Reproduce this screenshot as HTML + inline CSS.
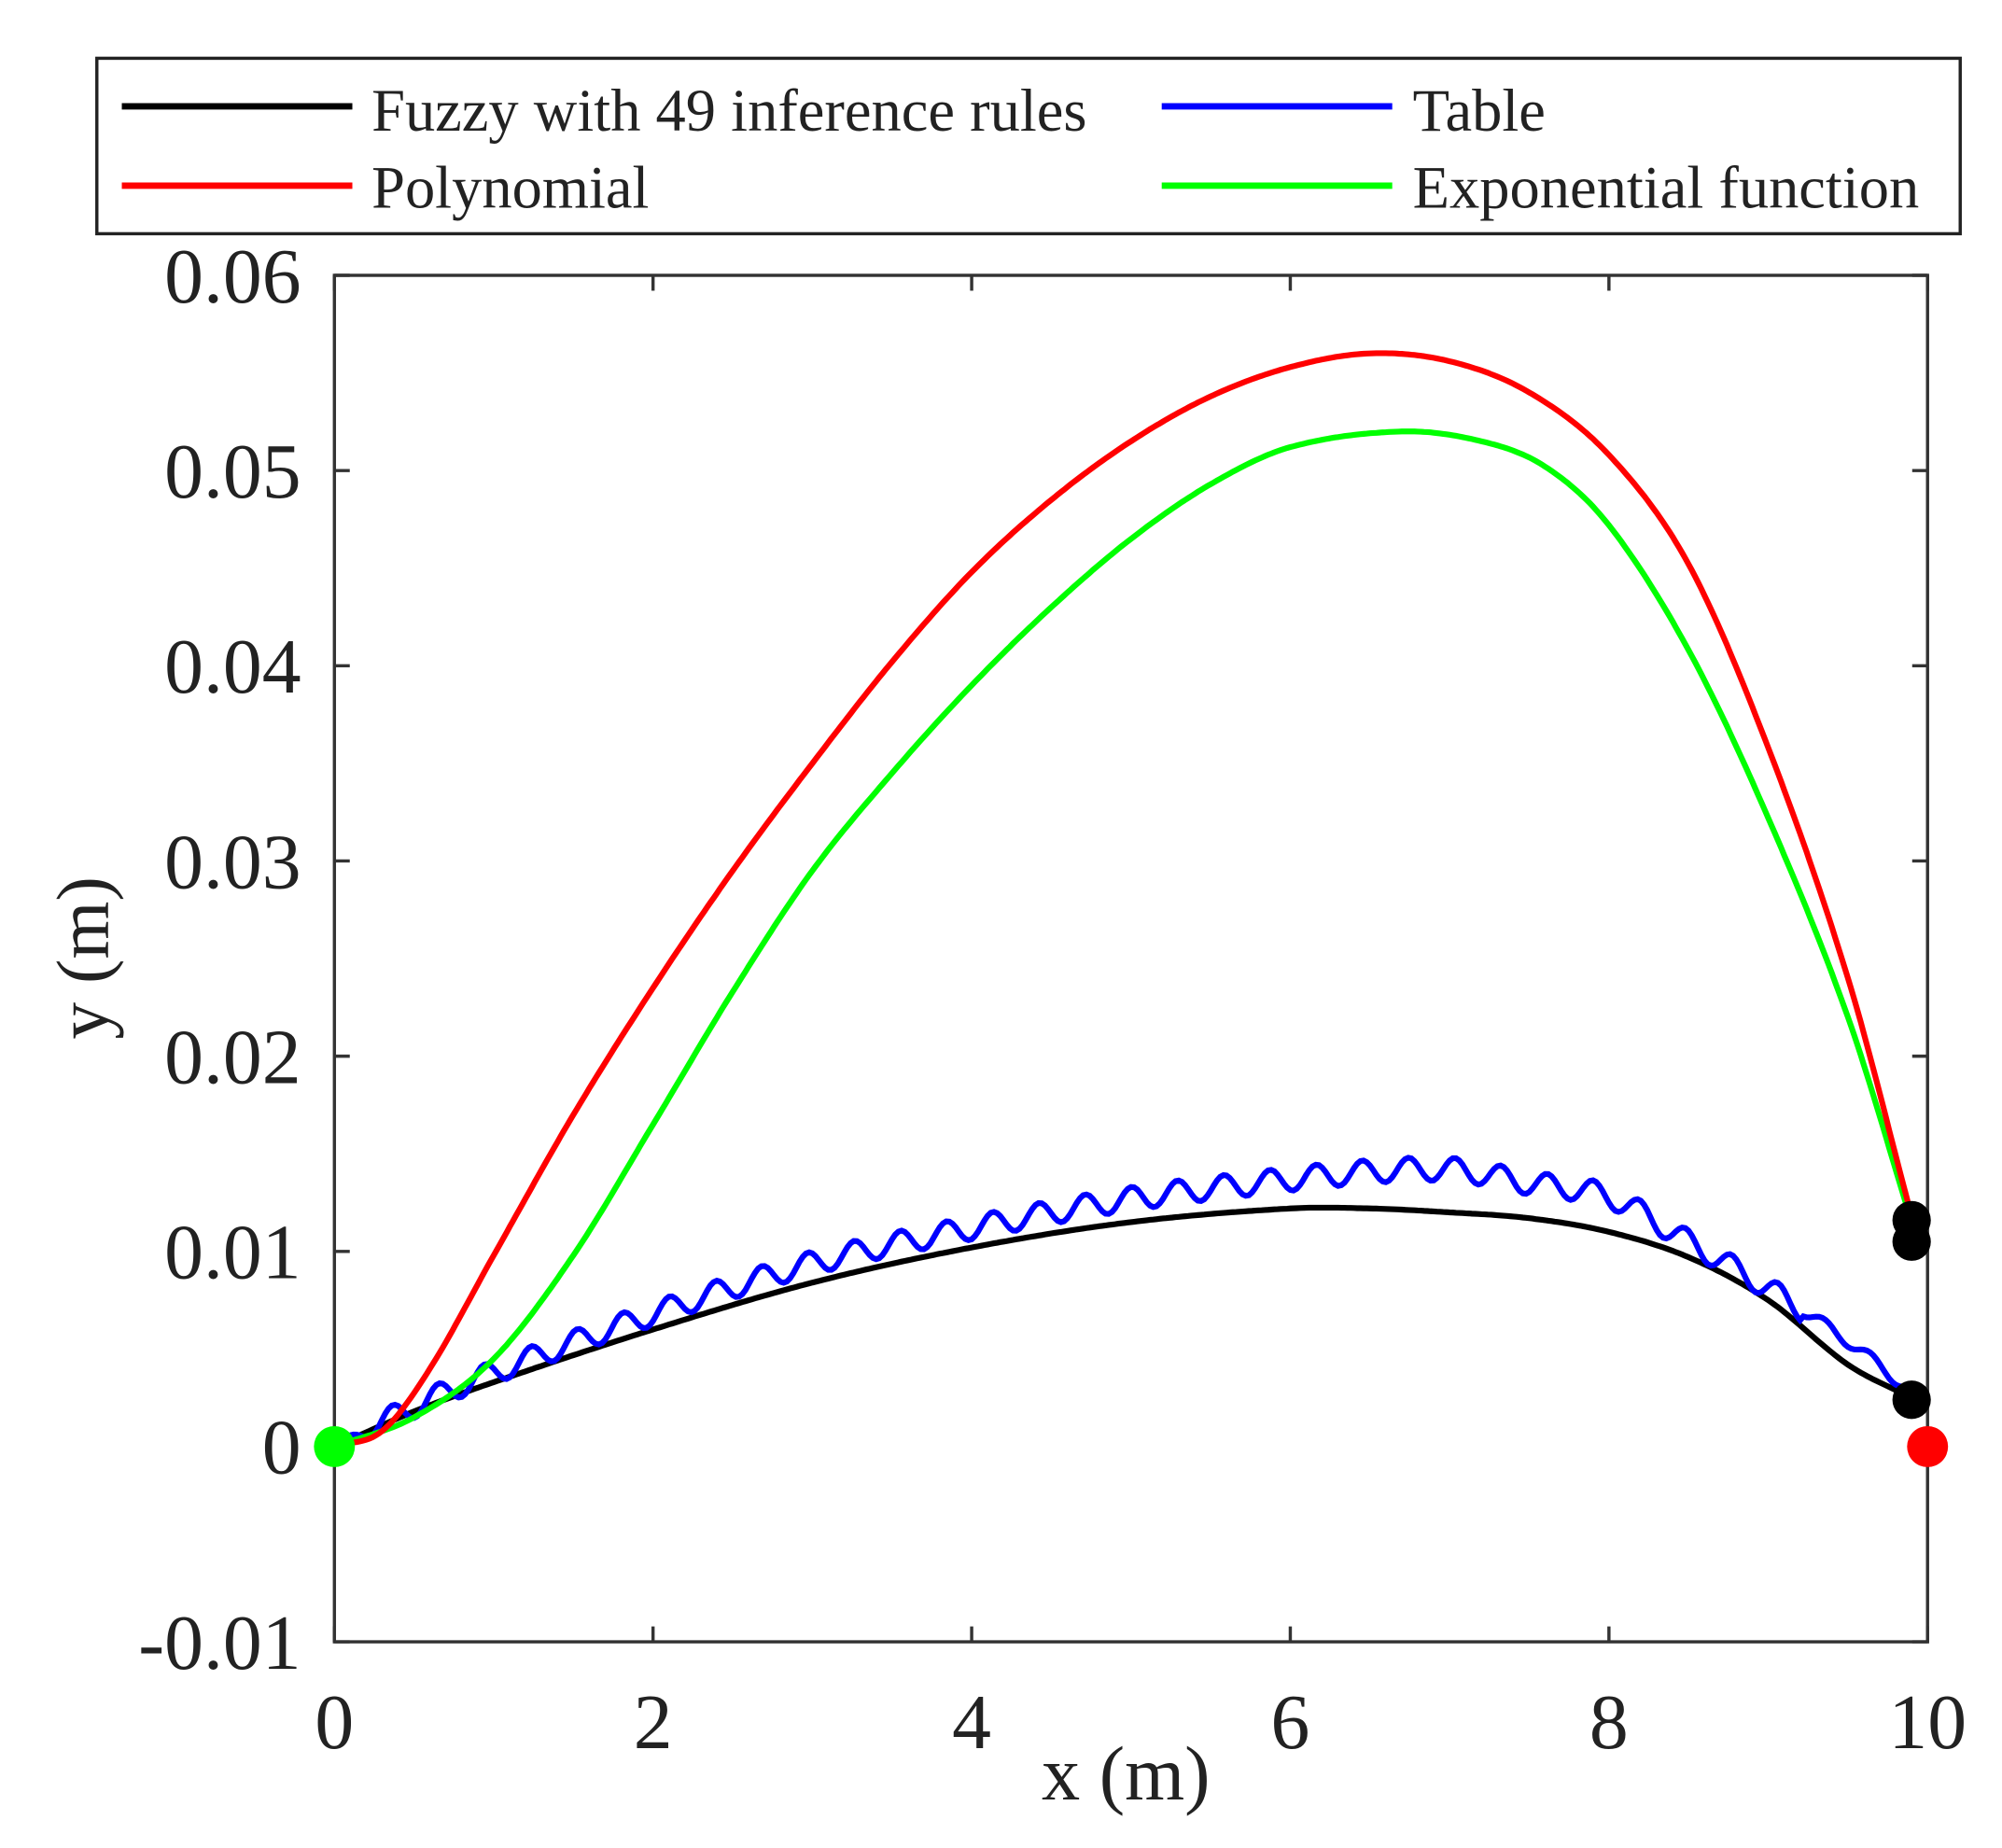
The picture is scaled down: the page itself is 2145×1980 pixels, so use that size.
<!DOCTYPE html>
<html><head><meta charset="utf-8"><style>
html,body{margin:0;padding:0;background:#fff}
svg{display:block}
text{font-family:"Liberation Serif",serif;fill:#222}
</style></head><body>
<svg id="s" width="2145" height="1980" viewBox="0 0 1563 1443" xmlns="http://www.w3.org/2000/svg">
<rect x="0" y="0" width="1563" height="1443" fill="#fff"/>
<rect x="75.5" y="45.5" width="1455" height="137" fill="#fff" stroke="#222" stroke-width="2.5"/>
<line x1="95" y1="83" x2="275" y2="83" stroke="#000" stroke-width="5"/>
<line x1="95" y1="145" x2="275" y2="145" stroke="#f00" stroke-width="5"/>
<line x1="907" y1="83" x2="1087" y2="83" stroke="#00f" stroke-width="5"/>
<line x1="907" y1="145" x2="1087" y2="145" stroke="#0f0" stroke-width="5"/>
<text x="290" y="102" font-size="47">Fuzzy with 49 inference rules</text>
<text x="290" y="162" font-size="47">Polynomial</text>
<text x="1103" y="102" font-size="47">Table</text>
<text x="1103" y="162" font-size="47">Exponential function</text>
<g id="ax"></g>
<g id="curves"></g>
<text x="879" y="1405" font-size="60" text-anchor="middle">x (m)</text>
<text transform="translate(84,748) rotate(-90)" font-size="58" text-anchor="middle">y (m)</text>
</svg>
<script>
const L=261,R=1505,T=215,B=1282;
const X=x=>L+(R-L)*x/10, Y=y=>B-(B-T)*(y+0.01)/0.07;
let ax='';
ax+=`<rect x="${L}" y="${T}" width="${R-L}" height="${B-T}" fill="none" stroke="#333" stroke-width="2.5"/>`;
for(let i=0;i<=10;i+=2){const x=X(i);
 ax+=`<line x1="${x}" y1="${B}" x2="${x}" y2="${B-12}" stroke="#333" stroke-width="2.5"/><line x1="${x}" y1="${T}" x2="${x}" y2="${T+12}" stroke="#333" stroke-width="2.5"/>`;
 ax+=`<text x="${x}" y="${B+83}" font-size="61" text-anchor="middle">${i}</text>`;}
const yl=['-0.01','0','0.01','0.02','0.03','0.04','0.05','0.06'];
for(let k=0;k<8;k++){const v=-0.01+0.01*k,y=Y(v);
 ax+=`<line x1="${L}" y1="${y}" x2="${L+12}" y2="${y}" stroke="#333" stroke-width="2.5"/><line x1="${R}" y1="${y}" x2="${R-12}" y2="${y}" stroke="#333" stroke-width="2.5"/>`;
 ax+=`<text x="${L-26}" y="${y+21}" font-size="61" text-anchor="end">${yl[k]}</text>`;}
document.getElementById('ax').innerHTML=ax;
function interp(pts,x){for(let i=0;i<pts.length-1;i++){if(x<=pts[i+1][0]){
 const p0=pts[Math.max(i-1,0)],p1=pts[i],p2=pts[i+1],p3=pts[Math.min(i+2,pts.length-1)];
 const t=(x-p1[0])/(p2[0]-p1[0]);
 const m1=(p2[1]-p0[1])/(p2[0]-p0[0])*(p2[0]-p1[0]), m2=(p3[1]-p1[1])/(p3[0]-p1[0])*(p2[0]-p1[0]);
 const t2=t*t,t3=t2*t;
 return (2*t3-3*t2+1)*p1[1]+(t3-2*t2+t)*m1+(-2*t3+3*t2)*p2[1]+(t3-t2)*m2;}}return pts[pts.length-1][1];}
const red=[[0,0],[0.3,0.0008],[0.6,0.004],[1,0.0098],[1.5,0.017],[2,0.0235],[2.5,0.0295],[3,0.035],[3.5,0.0402],[4,0.0448],[4.5,0.0485],[5,0.0515],[5.5,0.0538],[6,0.0553],[6.5,0.056],[7,0.0556],[7.5,0.054],[8,0.0508],[8.5,0.0452],[9,0.0358],[9.5,0.024],[9.9,0.0118]];
const green=[[0,0],[0.5,0.0015],[1,0.0045],[1.5,0.0098],[2,0.0165],[2.5,0.0233],[3,0.0295],[3.5,0.0345],[4,0.039],[4.5,0.043],[5,0.0465],[5.5,0.0493],[6,0.0512],[6.7,0.052],[7.2,0.0515],[7.6,0.0502],[8,0.0472],[8.5,0.0408],[9,0.0322],[9.5,0.022],[9.9,0.0115]];
const black=[[0,0],[0.5,0.0018],[1,0.0033],[2,0.006],[3,0.0084],[4,0.0102],[5,0.0115],[6,0.0122],[6.5,0.0122],[7,0.012],[7.5,0.0117],[8,0.011],[8.5,0.0097],[9,0.0075],[9.5,0.0042],[9.9,0.0025]];
const off=[[0,0],[1,0.0005],[2,0.0008],[3,0.001],[4,0.001],[5,0.0012],[6,0.0015],[7,0.0022],[7.5,0.0018],[8,0.0018],[8.5,0.0008],[9,0.0006],[9.5,0.0012],[9.9,0.0003]];
function path(fn){let d='';for(let x=0;x<=9.9001;x+=0.02){d+=(d?'L':'M')+X(x).toFixed(1)+','+Y(fn(x)).toFixed(1);}return d;}
let c='';
c+=`<path d="${path(x=>interp(black,x))}" fill="none" stroke="#000" stroke-width="4.5"/>`;
c+=`<path d="${path(x=>interp(black,x)+interp(off,x)+0.0006*Math.sin(2*Math.PI*x/0.29)*Math.min(1,x/0.3)*(x>9.2?0.5:1))}" fill="none" stroke="#00f" stroke-width="4.5"/>`;
c+=`<path d="${path(x=>interp(green,x))}" fill="none" stroke="#0f0" stroke-width="4.5"/>`;
c+=`<path d="${path(x=>interp(red,x))}" fill="none" stroke="#f00" stroke-width="4.5"/>`;
c+=`<circle cx="${X(9.9)}" cy="${Y(0.0116)}" r="15" fill="#000"/>`;
c+=`<circle cx="${X(9.9)}" cy="${Y(0.0105)}" r="15" fill="#000"/>`;
c+=`<circle cx="${X(9.9)}" cy="${Y(0.0024)}" r="15" fill="#000"/>`;
c+=`<circle cx="${X(10)}" cy="${Y(0)}" r="16" fill="#f00"/>`;
c+=`<circle cx="${X(0)}" cy="${Y(0)}" r="16" fill="#0f0"/>`;
document.getElementById('curves').innerHTML=c;
</script>
</body></html>
